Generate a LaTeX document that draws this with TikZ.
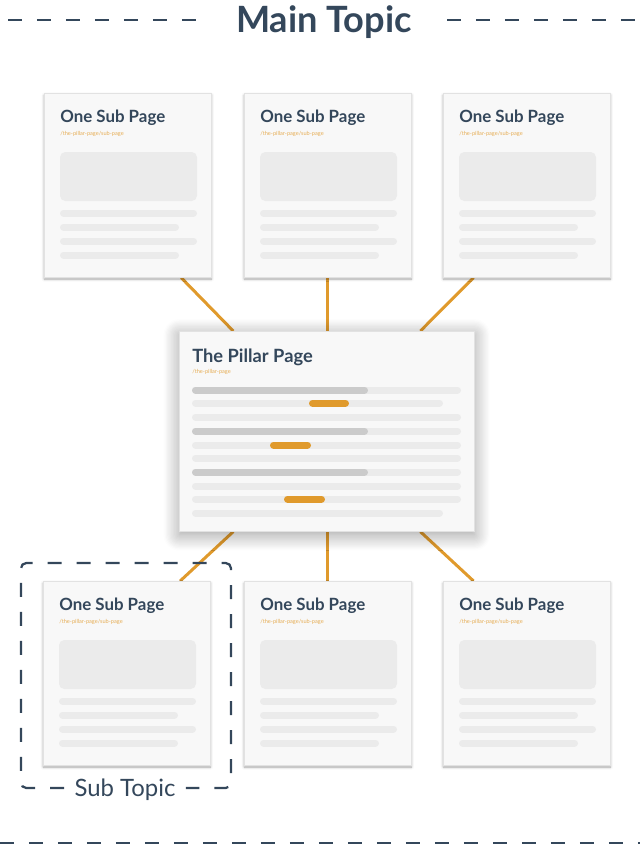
\documentclass[tikz,border=0pt]{standalone}
\usepackage{fontspec}
\setmainfont{Lato}
\usetikzlibrary{backgrounds,shadows.blur}
\definecolor{slate}{HTML}{34475B}
\definecolor{amber}{HTML}{E09A2C}
\definecolor{paper}{HTML}{F8F8F8}
\definecolor{rim}{HTML}{E2E2E2}
\definecolor{barlight}{HTML}{EBEBEB}
\definecolor{bardark}{HTML}{CBCBCB}
\tikzset{
  card/.style={draw=rim, fill=paper, line width=0.4pt, inner sep=0pt,
    minimum width=3.34cm, minimum height=3.68cm,
    blur shadow={shadow xshift=0pt, shadow yshift=-1pt, shadow blur radius=1.5pt, shadow opacity=35}},
  pillarcard/.style={draw=rim, fill=paper, line width=0.4pt, inner sep=0pt,
    minimum width=5.9cm, minimum height=4cm,
    blur shadow={shadow xshift=0pt, shadow yshift=-2pt, shadow blur radius=9pt, shadow blur steps=14, shadow opacity=40}},
  cardtitle/.style={inner sep=0pt, text=slate, font=\fontsize{9.6}{11}\selectfont\bfseries},
  slug/.style={inner sep=0pt, text=amber!80, font=\fontsize{3.2}{4}\selectfont},
  block/.style={fill=barlight, rounded corners=3pt},
  bar/.style={draw=barlight, line width=0.14cm, line cap=round},
  link/.style={draw=amber, line width=0.06cm},
  frame/.style={draw=slate, line width=0.05cm, dash pattern=on 0.28cm off 0.3cm},
}
\begin{document}
\begin{tikzpicture}[x=0.02cm, y=-0.02cm]
  \useasboundingbox (0,0) rectangle (640,853);
  % header
  \node[inner sep=0pt, anchor=base, text=slate, font=\fontsize{20.6}{23}\selectfont\bfseries] (main) at (324,32) {Main Topic};
  \draw[frame] (8,20) -- (197,20);
  \draw[frame] (447,20) -- (636,20);
  % sub pages
  \foreach \n/\x/\y in {top1/44/93, top2/244/93, top3/443/93, low1/43/581, low2/244/581, low3/443/581}{
    \node[card, anchor=north west] (\n) at (\x,\y) {};
    \node[cardtitle, anchor=base west] at (\x+16,\y+29) {One Sub Page};
    \node[slug, anchor=base west] at (\x+16,\y+42) {/the-pillar-page/sub-page};
    \fill[block] (\x+16,\y+59) rectangle (\x+153,\y+108);
    \draw[bar] (\x+19.5,\y+120) -- (\x+149.5,\y+120);
    \draw[bar] (\x+19.5,\y+134) -- (\x+131.5,\y+134);
    \draw[bar] (\x+19.5,\y+148) -- (\x+149.5,\y+148);
    \draw[bar] (\x+19.5,\y+162) -- (\x+131.5,\y+162);
  }
  % pillar page
  \node[pillarcard, anchor=north west] (pillar) at (179,331) {};
  \node[cardtitle, anchor=base west, font=\fontsize{10.4}{12}\selectfont\bfseries] at (192,362) {The Pillar Page};
  \node[slug, anchor=base west] at (192,373) {/the-pillar-page};
  \foreach \yy/\xe in {390/457.5, 403/439.5, 417/457.5, 431/457.5, 445/457.5, 458/457.5, 472/457.5, 486/457.5, 499/457.5, 513/439.5}
    \draw[bar] (195.5,\yy) -- (\xe,\yy);
  \foreach \yy in {390, 431, 472}
    \draw[bar, draw=bardark] (195.5,\yy) -- (364.5,\yy);
  \draw[bar, draw=amber] (312.5,403) -- (345.5,403);
  \draw[bar, draw=amber] (273.5,445) -- (307.5,445);
  \draw[bar, draw=amber] (287.5,499) -- (321.5,499);
  % links
  \begin{scope}[on background layer]
    \draw[link] (top1.-60) -- (pillar.133);
    \draw[link] (top2.south) -- (top2.south |- pillar.north);
    \draw[link] (top3.-120) -- (pillar.47);
    \draw[link] (low1.60) -- (pillar.-133);
    \draw[link] (low2.north) -- (low2.north |- pillar.south);
    \draw[link] (low3.120) -- (pillar.-47);
  \end{scope}
  % sub topic
  \node[inner sep=0pt, anchor=base, text=slate, font=\fontsize{13.6}{16}\selectfont] (subtopic) at (125,796) {Sub Topic};
  \draw[frame, rounded corners=3pt, line width=0.045cm] ([xshift=-0.2cm]subtopic.west |- 788,788) -- (21,788) -- (21,563) -- (231,563) -- (231,788) -- ([xshift=0.2cm]subtopic.east |- 788,788);
  \draw[frame] (0,843) -- (640,843);
\end{tikzpicture}
\end{document}
